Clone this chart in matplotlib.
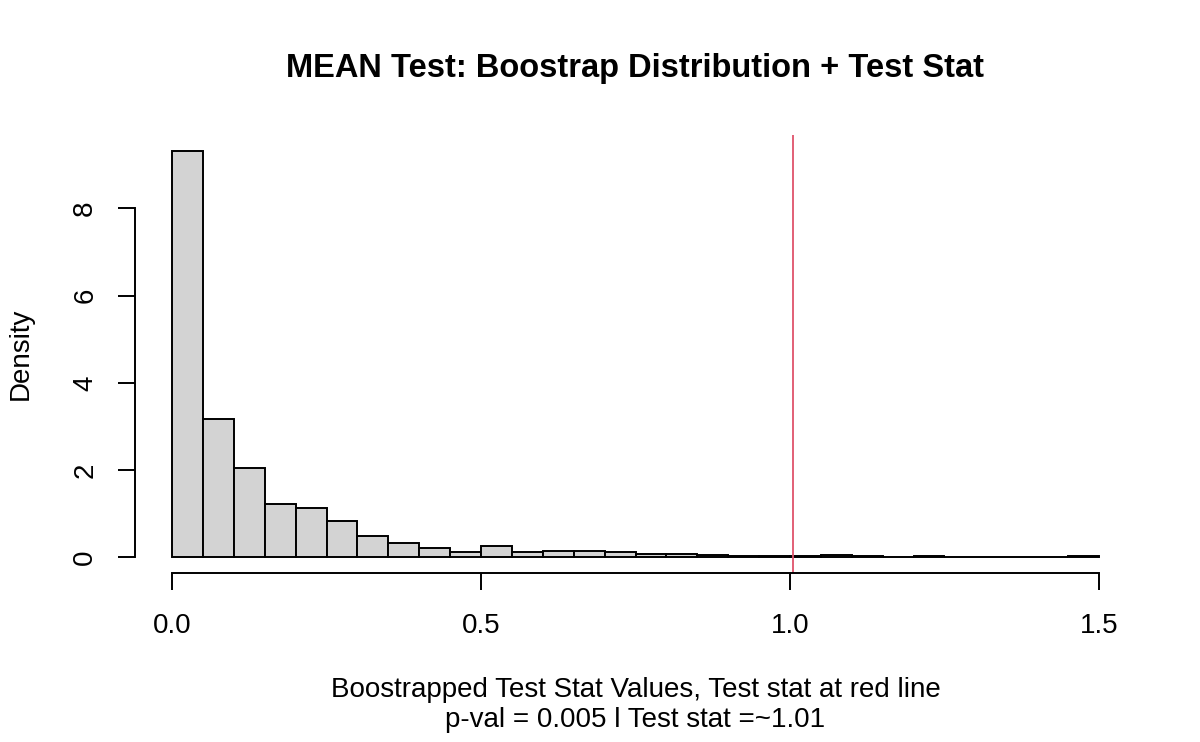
import matplotlib
matplotlib.use("Agg")
import matplotlib.pyplot as plt

# histogram of bootstrapped test statistics (density, bin width 0.05)
bin_edges = [round(0.05 * i, 2) for i in range(31)]
densities = [9.32, 3.18, 2.04, 1.22, 1.12, 0.82, 0.48, 0.32, 0.22, 0.12,
             0.26, 0.12, 0.14, 0.14, 0.12, 0.08, 0.06, 0.04, 0.02, 0.02,
             0.02, 0.04, 0.02, 0.00, 0.02, 0.00, 0.00, 0.00, 0.00, 0.02]
test_stat = 1.005
x_ticks = [0.0, 0.5, 1.0, 1.5]
x_tick_labels = ["0.0", "0.5", "1.0", "1.5"]
y_ticks = [0, 2, 4, 6, 8]

plt.rcParams['font.family'] = ['Liberation Sans', 'DejaVu Sans']


def main():
    fig = plt.figure(figsize=(12, 7.42), dpi=100)
    ax = fig.add_axes([0.1125, 0.2273, 0.8342, 0.5912])

    lefts = bin_edges[:-1]
    widths = [b - a for a, b in zip(bin_edges[:-1], bin_edges[1:])]
    ax.bar(lefts, densities, width=widths, align='edge', color='#D3D3D3',
           edgecolor='black', linewidth=1.4)

    ymax = max(densities)
    ax.set_xlim(-0.06, 1.56)
    ax.set_ylim(-0.04 * ymax, 1.04 * ymax)
    ax.axvline(test_stat, color='#DF536B', linewidth=1.3)

    for s in ['top', 'right']:
        ax.spines[s].set_visible(False)
    ax.spines['bottom'].set_bounds(0, 1.5)
    ax.spines['left'].set_bounds(0, 8)
    for s in ['bottom', 'left']:
        ax.spines[s].set_linewidth(1.4)

    ax.set_xticks(x_ticks)
    ax.set_xticklabels(x_tick_labels)
    ax.set_yticks(y_ticks)
    ax.set_yticklabels([str(v) for v in y_ticks], rotation=90, va='center')
    ax.tick_params(axis='x', length=12.5, width=1.4, pad=16, labelsize=20)
    ax.tick_params(axis='y', length=12.5, width=1.4, pad=14, labelsize=20)

    ax.set_ylabel("Density", fontsize=20, labelpad=28)
    cx = 0.5295
    fig.text(cx, 1 - 690 / 742, "Boostrapped Test Stat Values, Test stat at red line",
             ha='center', va='center', fontsize=20)
    fig.text(cx, 1 - 720 / 742, "p-val = 0.005 l Test stat =~1.01",
             ha='center', va='center', fontsize=20)
    fig.text(cx, 1 - 68 / 742, "MEAN Test: Boostrap Distribution + Test Stat",
             ha='center', va='center', fontsize=23.5, fontweight='bold')

    fig.savefig("out.png", dpi=100)


if __name__ == "__main__":
    main()
